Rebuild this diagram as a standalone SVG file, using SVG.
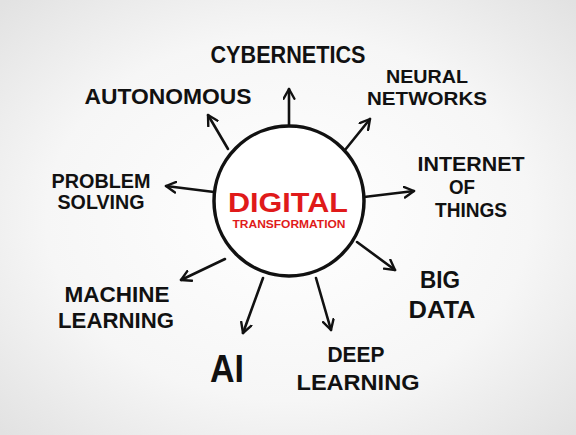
<svg xmlns="http://www.w3.org/2000/svg" width="576" height="435" viewBox="0 0 576 435">
<defs>
<radialGradient id="bg" cx="50%" cy="50%" r="70%">
<stop offset="0" stop-color="#ffffff"/>
<stop offset="0.6" stop-color="#f6f6f6"/>
<stop offset="1" stop-color="#e2e2e2"/>
</radialGradient>
<marker id="ah" viewBox="0 0 12 12" refX="10" refY="6" markerWidth="13" markerHeight="13" markerUnits="userSpaceOnUse" orient="auto">
<path d="M1,1 L10,6 L1,11" fill="none" stroke="#111" stroke-width="2.2" stroke-linecap="round" stroke-linejoin="round"/>
</marker>
<style>
.lbl{font-family:"Liberation Sans",Arial,sans-serif;font-weight:bold;fill:#111;}
.arr{stroke:#111;stroke-width:2.6;fill:none;stroke-linecap:round;marker-end:url(#ah);}
.red{font-family:"Liberation Sans",Arial,sans-serif;font-weight:bold;fill:#e01a1a;}
</style>
</defs>
<rect width="576" height="435" fill="url(#bg)"/>
<g id="connectors">
<line class="arr" x1="289" y1="125" x2="289" y2="89"/>
<line class="arr" x1="228" y1="149" x2="208" y2="115"/>
<line class="arr" x1="345" y1="150" x2="370" y2="119"/>
<line class="arr" x1="214" y1="192" x2="166" y2="186"/>
<line class="arr" x1="364" y1="197" x2="414" y2="191"/>
<line class="arr" x1="357" y1="242" x2="395" y2="270"/>
<line class="arr" x1="225" y1="259" x2="181" y2="280"/>
<line class="arr" x1="263" y1="278" x2="243" y2="333"/>
<line class="arr" x1="316" y1="278" x2="331" y2="330"/>
</g>
<g id="center">
<circle cx="289" cy="201" r="75" fill="#ffffff" stroke="#111" stroke-width="3.5"/>
<text class="red" x="288" y="212" text-anchor="middle" font-size="27" textLength="120" lengthAdjust="spacingAndGlyphs">DIGITAL</text>
<text class="red" x="289" y="228" text-anchor="middle" font-size="10" textLength="113" lengthAdjust="spacingAndGlyphs">TRANSFORMATION</text>
</g>
<g id="cybernetics"><text class="lbl" x="288" y="63" text-anchor="middle" font-size="23" textLength="155" lengthAdjust="spacingAndGlyphs">CYBERNETICS</text></g>
<g id="autonomous"><text class="lbl" x="168" y="104" text-anchor="middle" font-size="22" textLength="167" lengthAdjust="spacingAndGlyphs">AUTONOMOUS</text></g>
<g id="neural-networks">
<text class="lbl" x="427" y="83" text-anchor="middle" font-size="18" textLength="82" lengthAdjust="spacingAndGlyphs">NEURAL</text>
<text class="lbl" x="427" y="105" text-anchor="middle" font-size="19" textLength="120" lengthAdjust="spacingAndGlyphs">NETWORKS</text>
</g>
<g id="internet-of-things">
<text class="lbl" x="471" y="171" text-anchor="middle" font-size="20" textLength="107" lengthAdjust="spacingAndGlyphs">INTERNET</text>
<text class="lbl" x="462" y="194" text-anchor="middle" font-size="20" textLength="26" lengthAdjust="spacingAndGlyphs">OF</text>
<text class="lbl" x="471" y="217" text-anchor="middle" font-size="20" textLength="72" lengthAdjust="spacingAndGlyphs">THINGS</text>
</g>
<g id="problem-solving">
<text class="lbl" x="101" y="188" text-anchor="middle" font-size="20" textLength="99" lengthAdjust="spacingAndGlyphs">PROBLEM</text>
<text class="lbl" x="101" y="209" text-anchor="middle" font-size="20" textLength="87" lengthAdjust="spacingAndGlyphs">SOLVING</text>
</g>
<g id="big-data">
<text class="lbl" x="440" y="288" text-anchor="middle" font-size="24" textLength="40" lengthAdjust="spacingAndGlyphs">BIG</text>
<text class="lbl" x="442" y="318" text-anchor="middle" font-size="24" textLength="67" lengthAdjust="spacingAndGlyphs">DATA</text>
</g>
<g id="machine-learning">
<text class="lbl" x="117" y="302" text-anchor="middle" font-size="22" textLength="105" lengthAdjust="spacingAndGlyphs">MACHINE</text>
<text class="lbl" x="116" y="328" text-anchor="middle" font-size="22" textLength="116" lengthAdjust="spacingAndGlyphs">LEARNING</text>
</g>
<g id="ai"><text class="lbl" x="227" y="382" text-anchor="middle" font-size="38" textLength="34" lengthAdjust="spacingAndGlyphs">AI</text></g>
<g id="deep-learning">
<text class="lbl" x="356" y="362" text-anchor="middle" font-size="22" textLength="57" lengthAdjust="spacingAndGlyphs">DEEP</text>
<text class="lbl" x="358" y="390" text-anchor="middle" font-size="22" textLength="123" lengthAdjust="spacingAndGlyphs">LEARNING</text>
</g>
</svg>
